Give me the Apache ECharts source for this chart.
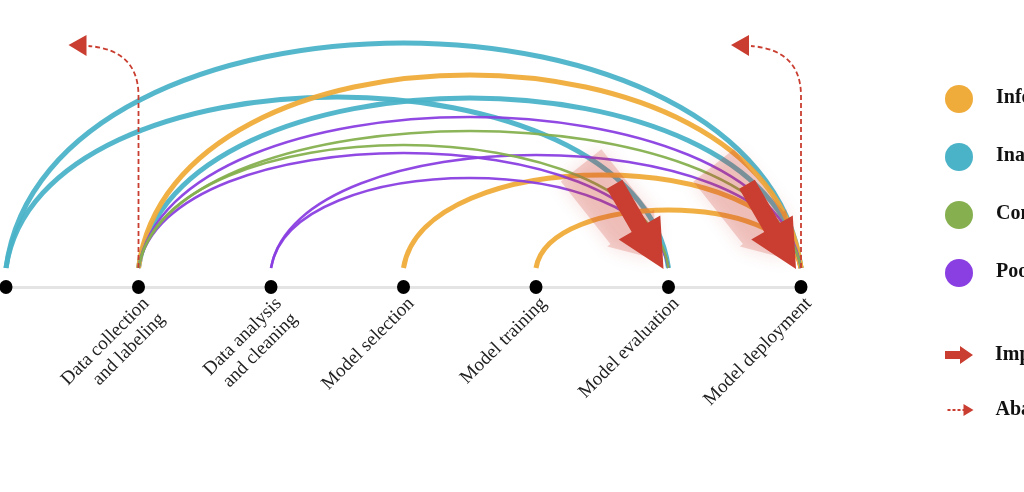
<!DOCTYPE html><html><head><meta charset="utf-8">
<script src="https://cdn.jsdelivr.net/npm/echarts@6/dist/echarts.min.js"></script>
<style>html,body{margin:0;padding:0;background:#fff}#c{width:1024px;height:492px}</style></head><body><div id="c"></div>
<script>
const categories = ['Informational','Inadequate','Contradictory','Poor quality'];
const colors = ['#f0ac3a','#4bb3c8','#86b04f','#8a3fe2'];
// [from, to, peak height above arc base, category]
const arcs = [
  [0,5,171,1],[0,6,225,1],[1,6,170,1],
  [1,6,193,0],[3,6,93,0],[4,6,58,0],
  [1,5,115,3],[1,6,151,3],[2,5,90,3],[2,6,113,3],
  [1,6,137,2],[1,5,123,2]
];
const xLabels = ['', 'Data collection\nand labeling','Data analysis\nand cleaning','Model selection','Model training','Model evaluation','Model deployment'];
const nodes = [0,1,2,3,4,5,6];
const impactTargets = [5,6];
const abandonFrom = [1,6];
const legendItems = ['Informational','Inadequate','Contradictory','Poor quality'];
const legendArrows = ['Impact','Abandon'];

const chart = echarts.init(document.getElementById('c'));
const serif = 'Liberation Serif';
function arrowPts(x,y,d,n,hl,hw,sw,sl){
  const P=(a,b)=>[x+d[0]*a+n[0]*b,y+d[1]*a+n[1]*b];
  return [P(0,0),P(-hl,hw),P(-hl,sw),P(-hl-sl,sw),P(-hl-sl,-sw),P(-hl,-sw),P(-hl,-hw)];
}
chart.setOption({
  animation:false,
  grid:{left:6,right:223,top:0,bottom:205},
  xAxis:{type:'value',min:0,max:6,interval:1,splitLine:{show:false},
    axisLine:{show:true,lineStyle:{color:'#e4e4e4',width:3}},axisTick:{show:false},
    axisLabel:{rotate:45,fontFamily:serif,fontSize:19,color:'#222',lineHeight:22,margin:6,align:'right',verticalAlign:'top',
      formatter:v=>xLabels[v]}},
  yAxis:{type:'value',min:0,max:287,show:false},
  series:[
    {type:'custom',data:arcs,renderItem:(p,api)=>{
      const a=arcs[p.dataIndex];
      const s=api.coord([a[0],19]),e=api.coord([a[1],19]),t=api.coord([0,19+a[2]]);
      const h=(s[1]-t[1])*4/3;
      const w=a[3]<2?5:2.5;
      return {type:'bezierCurve',shape:{x1:s[0],y1:s[1],x2:e[0],y2:e[1],cpx1:s[0]+(e[0]-s[0])*0.05,cpy1:s[1]-h,cpx2:e[0]-(e[0]-s[0])*0.05,cpy2:e[1]-h},
        style:{stroke:colors[a[3]],lineWidth:w,fill:null,opacity:0.95}};
    }},
    {type:'custom',data:impactTargets,z:5,renderItem:(p,api)=>{
      const tp=api.coord([impactTargets[p.dataIndex],18]);
      const x=tp[0]-5,y=tp[1];
      const d=[0.5,0.866],n=[0.866,-0.5];
      return {type:'group',children:[
        {type:'polygon',shape:{points:arrowPts(x-8,y-10,[0.62,0.78],[0.78,-0.62],40,30,26,80)},
          style:{fill:'rgba(205,60,45,0.22)',shadowBlur:18,shadowColor:'rgba(205,60,45,0.7)'}},
        {type:'polygon',shape:{points:arrowPts(x,y,d,n,48,24,9,50)},style:{fill:'#c93e30'}}
      ]};
    }},
    {type:'custom',data:abandonFrom,z:4,renderItem:(p,api)=>{
      const b=api.coord([abandonFrom[p.dataIndex],19]);
      const x=b[0],y=b[1];
      return {type:'group',children:[
        {type:'path',shape:{pathData:`M${x} ${y} L${x} ${y-172} Q${x} ${y-218} ${x-50} ${y-222}`},
          style:{stroke:'#c93e30',lineWidth:1.8,lineDash:[5,3],fill:null}},
        {type:'polygon',shape:{points:[[x-70,y-223],[x-52,y-233],[x-52,y-212]]},style:{fill:'#c93e30'}}
      ]};
    }},
    {type:'scatter',data:nodes.map(n=>[n,0]),symbolSize:[13,14],itemStyle:{color:'#000',opacity:1},z:6}
  ],
  graphic:[
    ...legendItems.map((n,i)=>({type:'group',left:945,top:85+i*58,children:[
      {type:'circle',shape:{cx:15,cy:15,r:14},style:{fill:colors[i]}},
      {type:'text',style:{x:52,y:4,text:n,font:'bold 20px '+serif,fill:'#111'}}]})),
    {type:'group',left:945,top:345,children:[
      {type:'polygon',shape:{points:[[2,9],[17,9],[17,4],[30,13],[17,22],[17,17],[2,17]]},style:{fill:'#c93e30'}},
      {type:'text',style:{x:52,y:3,text:legendArrows[0],font:'bold 20px '+serif,fill:'#111'}}]},
    {type:'group',left:945,top:400,children:[
      {type:'line',shape:{x1:4,y1:11,x2:22,y2:11},style:{stroke:'#c93e30',lineWidth:1.8,lineDash:[3,2]}},
      {type:'polygon',shape:{points:[[20,5],[30,11],[20,17]]},style:{fill:'#c93e30'}},
      {type:'text',style:{x:52,y:1,text:legendArrows[1],font:'bold 20px '+serif,fill:'#111'}}]}
  ]
});
</script></body></html>
